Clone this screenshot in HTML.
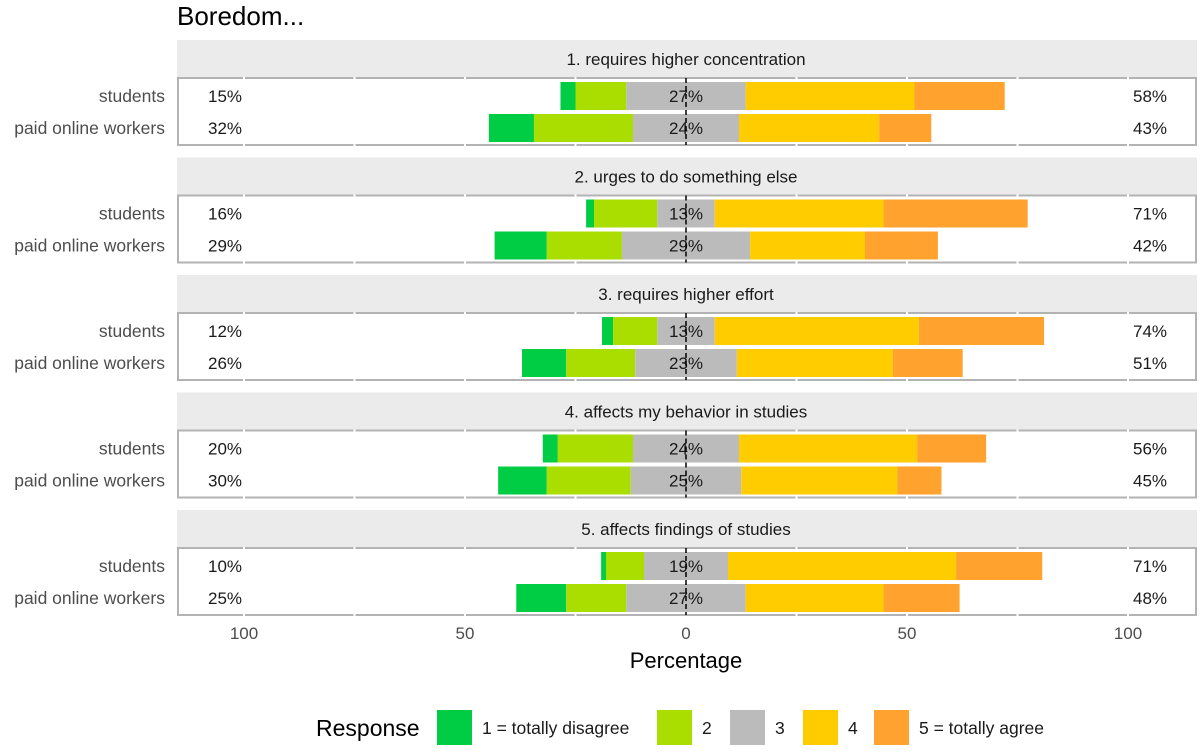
<!DOCTYPE html>
<html><head><meta charset="utf-8"><style>
body{margin:0;background:#fff;font-family:"Liberation Sans",sans-serif}
</style></head><body>
<svg width="1200" height="748" viewBox="0 0 1200 748" xmlns="http://www.w3.org/2000/svg" font-family="Liberation Sans, sans-serif">
<text x="177" y="25" font-size="26" fill="#000">Boredom...</text>
<g id="panels"></g>
<g id="axis"></g>
<text x="686" y="668" font-size="22" text-anchor="middle" fill="#000">Percentage</text>
<g id="legend"></g>
</svg>
<script>
const questions = ["1. requires higher concentration","2. urges to do something else","3. requires higher effort","4. affects my behavior in studies","5. affects findings of studies"];
const groups = ["students","paid online workers"];
const resp1 = [[3.4,10.2],[1.8,11.8],[2.5,10],[3.4,11],[1.1,11.3]];
const resp2 = [[11.5,22.4],[14.3,17],[10,15.6],[17,19],[8.6,13.6]];
const resp3 = [[27,24],[13,29],[13,23],[24,25],[19,27]];
const resp4 = [[38.2,31.7],[38.2,26],[46.2,35.3],[40.3,35.3],[51.6,31.2]];
const resp5 = [[20.4,11.8],[32.6,16.5],[28.3,15.8],[15.6,10],[19.5,17.2]];
const leftLabels = [["15%","32%"],["16%","29%"],["12%","26%"],["20%","30%"],["10%","25%"]];
const midLabels = [["27%","24%"],["13%","29%"],["13%","23%"],["24%","25%"],["19%","27%"]];
const rightLabels = [["58%","43%"],["71%","42%"],["74%","51%"],["56%","45%"],["71%","48%"]];
const ticks = [-100,-50,0,50,100];
const tickLabels = ["100","50","0","50","100"];
const legendLabels = ["1 = totally disagree","2","3","4","5 = totally agree"];
const colors = ["#00cc44","#aadd00","#bbbbbb","#ffcc00","#ffa22e"];

const NS="http://www.w3.org/2000/svg";
const x = v => 686 + v*4.42;
function mk(tag, attrs, parent){const e=document.createElementNS(NS,tag);for(const k in attrs)e.setAttribute(k,attrs[k]);parent.appendChild(e);return e;}
const P=document.getElementById('panels');
questions.forEach((q,i)=>{
  const y0=40+i*117.5;
  const strip=mk('rect',{x:177,y:y0,width:1020,height:37,fill:'#ebebeb'},P);
  
  
  const st=mk('text',{x:686,y:y0+25,'font-size':17,'text-anchor':'middle',fill:'#1a1a1a'},P);
  st.textContent=q;
  
  
  const box=mk('rect',{x:178,y:y0+38,width:1018,height:67,fill:'#fff',stroke:'#b3b3b3','stroke-width':2},P);
  
  
  [-100,-75,-50,-25,25,50,75,100].forEach(t=>{
    const g=mk('line',{x1:x(t),x2:x(t),y1:y0+37,y2:y0+106,stroke:'#fff','stroke-width':2},P);
    
    
  });
  groups.forEach((gname,j)=>{
    const yc=y0+56+j*32, h=28, yt=yc-h/2;
    const vals=[resp1[i][j],resp2[i][j],resp3[i][j],resp4[i][j],resp5[i][j]];
    let start=-(vals[0]+vals[1]+vals[2]/2);
    vals.forEach((v,k)=>{
      const r=mk('rect',{x:x(start),y:yt,width:v*4.42,height:h,fill:colors[k]},P);
      
      
      start+=v;
    });
    const gl=mk('text',{x:165,y:yc+6,'font-size':17.5,'text-anchor':'end',fill:'#4d4d4d'},P);
    gl.textContent=gname;
    
    
    [[225,leftLabels[i][j]],[686,midLabels[i][j]],[1150,rightLabels[i][j]]].forEach(([px,t])=>{
      const tx=mk('text',{x:px,y:yc+6,'font-size':17,'text-anchor':'middle',fill:'#1a1a1a'},P);
      tx.textContent=t;
      
      
    });
  });
  const d=mk('line',{x1:686,x2:686,y1:y0+38,y2:y0+105,stroke:'#000','stroke-width':1.5,'stroke-dasharray':'5,3'},P);
  
  
});
const A=document.getElementById('axis');
ticks.forEach((t,k)=>{
  const tx=mk('text',{x:x(t),y:639,'font-size':17,'text-anchor':'middle',fill:'#4d4d4d'},A);
  tx.textContent=tickLabels[k];
  
  
});
const L=document.getElementById('legend');
const lt=mk('text',{x:316,y:736,'font-size':23,fill:'#000'},L);
lt.textContent='Response';


const lx=[437,657,730,803,874];
legendLabels.forEach((t,k)=>{
  const r=mk('rect',{x:lx[k],y:710,width:35,height:35,fill:colors[k]},L);
  
  
  const tx=mk('text',{x:lx[k]+45,y:734,'font-size':17.5,fill:'#1a1a1a'},L);
  tx.textContent=t;
  
  
});
</script>
</body></html>
